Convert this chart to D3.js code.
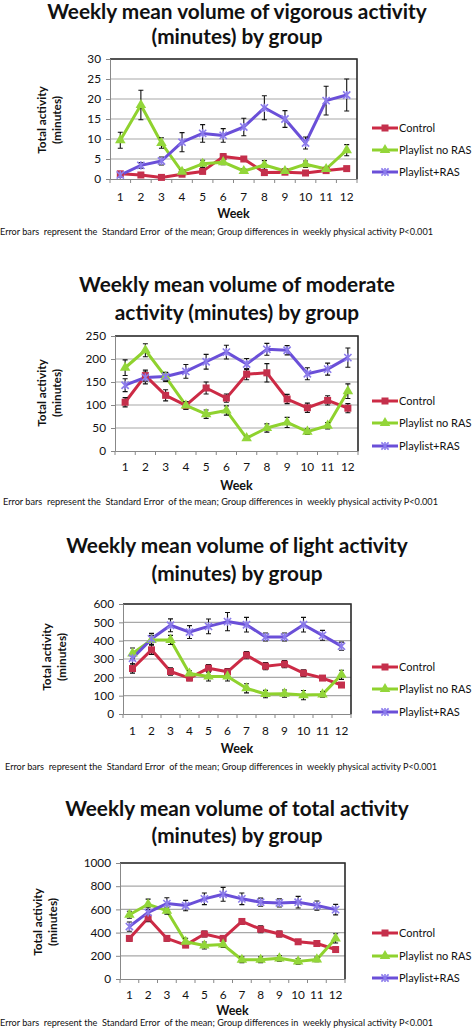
<!DOCTYPE html>
<html><head><meta charset="utf-8">
<script src="https://cdn.jsdelivr.net/npm/d3@7"></script>
<style>
html,body{margin:0;padding:0;background:#fff;}
svg{display:block;}
text{font-family:Lato,"Open Sans",sans-serif;fill:#111;}
</style></head>
<body><svg id="c" width="474" height="1029"></svg>
<script>
// ---------- DATA ----------
const weeks = ["1","2","3","4","5","6","7","8","9","10","11","12"];
const seriesNames = ["Control","Playlist no RAS","Playlist+RAS"];
const footnote = "Error bars  represent the  Standard Error  of the mean; Group differences in  weekly physical activity P<0.001";

const vigTitle = ["Weekly mean volume of vigorous activity","(minutes) by group"];
const vigTicks = [0,5,10,15,20,25,30];
const vigControl   = [1.3,1.0,0.4,1.2,1.9,5.6,5.0,1.6,1.7,1.5,2.1,2.6];
const vigControlSE = [0.5,0.5,0.4,0.4,0.5,0.7,0.6,0.5,0.5,0.5,0.5,0.5];
const vigNoRas     = [9.7,18.5,9.0,1.8,3.8,4.2,2.0,3.5,2.0,3.7,2.5,7.2];
const vigNoRasSE   = [2.0,3.7,1.3,0.5,0.9,0.6,0.5,1.1,0.6,0.8,0.5,1.4];
const vigRas       = [1.0,3.4,4.5,9.2,11.4,10.9,13.0,17.8,15.0,9.0,19.6,21.0];
const vigRasSE     = [0.5,0.7,1.0,2.4,2.2,1.7,2.2,3.0,2.1,1.5,3.6,4.0];

const modTitle = ["Weekly mean volume of moderate","activity (minutes) by group"];
const modTicks = [0,50,100,150,200,250];
const modControl   = [106,164,121,99,137,115,167,170,113,94,110,93];
const modControlSE = [10,12,12,8,13,9,12,20,10,10,10,10];
const modNoRas     = [181,219,161,99,80,88,28,50,62,42,55,130];
const modNoRasSE   = [17,14,10,8,9,10,4,9,11,6,7,16];
const modRas       = [143,160,162,173,194,215,189,221,219,168,178,203];
const modRasSE     = [14,14,8,15,16,15,12,13,10,13,13,21];

const lightTitle = ["Weekly mean volume of light activity","(minutes) by group"];
const lightTicks = [0,100,200,300,400,500,600];
const lightControl   = [248,350,232,196,250,230,321,261,272,223,196,158];
const lightControlSE = [25,25,20,15,20,18,20,20,20,18,12,10];
const lightNoRas     = [330,404,404,221,205,205,140,109,111,103,107,214];
const lightNoRasSE   = [30,25,25,15,25,25,25,20,20,25,15,25];
const lightRas       = [304,410,484,447,478,504,487,420,420,487,429,370];
const lightRasSE     = [30,30,35,35,40,50,40,22,22,40,27,22];

const totTitle = ["Weekly mean volume of total activity","(minutes) by group"];
const totTicks = [0,200,400,600,800,1000];
const totControl   = [350,525,350,292,388,350,496,429,388,321,306,254];
const totControlSE = [25,30,25,20,25,25,25,30,25,20,20,20];
const totNoRas     = [554,644,589,321,289,297,166,166,178,152,169,350];
const totNoRasSE   = [30,45,30,30,30,25,25,25,25,25,20,40];
const totRas       = [452,574,650,633,691,730,691,662,656,662,633,598];
const totRasSE     = [40,40,50,45,50,60,50,35,35,50,40,45];

// ---------- LAYOUT / STYLE ----------
const colors = ["#cc2a45","#8fd22e","#6a4fd8"];
const markerColors = ["#c4304c","#93d63a","#8c7cec"];

const panels = [
  {title:vigTitle, ticks:vigTicks, vals:[vigControl,vigNoRas,vigRas], se:[vigControlSE,vigNoRasSE,vigRasSE],
   t1:19, t2:44, x0:110, x1:357, y0:59, y1:179, lab:197, week:214, foot:232, footX:0, footW:433, leg:[128,150,172], yl:[42,57], ylc:120},
  {title:modTitle, ticks:modTicks, vals:[modControl,modNoRas,modRas], se:[modControlSE,modNoRasSE,modRasSE],
   t1:292, t2:320, x0:115, x1:358, y0:336, y1:451, lab:467, week:486, foot:502, footX:3, footW:435, leg:[401,423,446], yl:[42,57], ylc:393},
  {title:lightTitle, ticks:lightTicks, vals:[lightControl,lightNoRas,lightRas], se:[lightControlSE,lightNoRasSE,lightRasSE],
   t1:553, t2:581, x0:123, x1:351, y0:604, y1:714, lab:731, week:749, foot:767, footX:5, footW:432, leg:[667,689,712], yl:[47,62], ylc:657},
  {title:totTitle, ticks:totTicks, vals:[totControl,totNoRas,totRas], se:[totControlSE,totNoRasSE,totRasSE],
   t1:816, t2:843, x0:120, x1:345, y0:863, y1:979, lab:995, week:1011, foot:1023, footX:0, footW:433, leg:[933,956,978], yl:[38,53], ylc:922}
];

const svg = d3.select("#c");

function marker(g, i, x, y) {
  if (i === 0) {
    g.append("rect").attr("x", x-3.5).attr("y", y-3.5).attr("width", 7).attr("height", 7)
      .attr("fill", markerColors[0]);
  } else if (i === 1) {
    g.append("path").attr("d", d3.symbol(d3.symbolTriangle, 48)()).attr("transform", `translate(${x},${y})`)
      .attr("fill", markerColors[1]);
  } else {
    const s = 3.6;
    g.append("path").attr("d", `M${x-s},${y-s}L${x+s},${y+s}M${x-s},${y+s}L${x+s},${y-s}M${x},${y-s-0.5}L${x},${y+s+0.5}`)
      .attr("stroke", markerColors[2]).attr("stroke-width", 1.6).attr("fill", "none");
  }
}

panels.forEach(p => {
  const g = svg.append("g");
  // titles
  g.append("text").attr("x", 237).attr("y", p.t1).attr("text-anchor", "middle")
    .attr("font-size", 20.8).attr("font-weight", "bold").text(p.title[0]);
  g.append("text").attr("x", 237).attr("y", p.t2).attr("text-anchor", "middle")
    .attr("font-size", 20.8).attr("font-weight", "bold").text(p.title[1]);

  const x = d3.scaleBand().domain(weeks).range([p.x0, p.x1]);
  const y = d3.scaleLinear().domain([0, d3.max(p.ticks)]).range([p.y1, p.y0]);

  // gridlines
  g.append("g").selectAll("line").data(p.ticks.slice(1)).join("line")
    .attr("x1", p.x0).attr("x2", p.x1).attr("y1", d => y(d)).attr("y2", d => y(d))
    .attr("stroke", "#a8a8a8").attr("stroke-width", 1.2);
  // frame top/right dark
  g.append("path").attr("d", `M${p.x0},${p.y0}H${p.x1}V${p.y1}`).attr("fill","none")
    .attr("stroke", "#2a2a2a").attr("stroke-width", 1.6);

  // y axis
  const ya = g.append("g").attr("transform", `translate(${p.x0},0)`)
    .call(d3.axisLeft(y).tickValues(p.ticks).tickFormat(d3.format("d")).tickSize(4).tickPadding(5));
  ya.select(".domain").attr("stroke", "#888");
  ya.selectAll(".tick line").attr("stroke", "#888");
  ya.selectAll(".tick text").attr("font-size", 11.8).attr("fill", "#111")
    .attr("font-family", "Lato,'Open Sans',sans-serif");

  // x axis
  const xa = g.append("g").attr("transform", `translate(0,${p.y1})`)
    .call(d3.axisBottom(x).tickSize(0).tickPadding(0));
  xa.select(".domain").attr("stroke", "#888");
  xa.selectAll(".tick text").attr("font-size", 11.8).attr("fill", "#111")
    .attr("font-family", "Lato,'Open Sans',sans-serif")
    .attr("y", p.lab - p.y1).attr("dy", "0.32em");
  // category boundary ticks
  g.append("g").selectAll("line").data(weeks.concat(["end"])).join("line")
    .attr("x1", (d,i) => p.x0 + i*x.bandwidth()).attr("x2", (d,i) => p.x0 + i*x.bandwidth())
    .attr("y1", p.y1).attr("y2", p.y1 + 4).attr("stroke", "#888");

  // Week label
  g.append("text").attr("x", (p.x0+p.x1)/2).attr("y", p.week).attr("dy","0.35em").attr("text-anchor","middle")
    .attr("font-size", 12.5).attr("font-weight","bold").text("Week");
  // y label
  const yl = g.append("g").attr("transform", `translate(0,${p.ylc})`);
  yl.append("text").attr("transform", `translate(${p.yl[0]},0) rotate(-90)`).attr("dy","0.35em")
    .attr("text-anchor","middle").attr("font-size", 11.8).attr("font-weight","bold").text("Total activity");
  yl.append("text").attr("transform", `translate(${p.yl[1]},0) rotate(-90)`).attr("dy","0.35em")
    .attr("text-anchor","middle").attr("font-size", 11.8).attr("font-weight","bold").text("(minutes)");

  // footnote
  g.append("text").attr("x", p.footX).attr("y", p.foot).attr("dy","0.35em").attr("font-size", 9.8)
    .attr("textLength", p.footW).attr("lengthAdjust", "spacingAndGlyphs")
    .attr("xml:space","preserve").style("white-space","pre").text(footnote);

  const cx = d => x(d) + x.bandwidth()/2;
  const line = d3.line().x((d,i) => cx(weeks[i])).y(d => y(d));

  // lines
  p.vals.forEach((vals, si) => {
    g.append("path").datum(vals).attr("d", line).attr("fill","none")
      .attr("stroke", colors[si]).attr("stroke-width", 3).attr("stroke-linejoin","round");
  });
  // error bars
  p.vals.forEach((vals, si) => {
    const eb = g.append("g");
    vals.forEach((v, i) => {
      const xx = cx(weeks[i]), lo = y(v - p.se[si][i]), hi = y(v + p.se[si][i]);
      eb.append("path").attr("d", `M${xx},${lo}V${hi}M${xx-2.5},${lo}H${xx+2.5}M${xx-2.5},${hi}H${xx+2.5}`)
        .attr("stroke", "#111").attr("stroke-width", 1.1).attr("fill","none");
    });
  });
  // markers
  p.vals.forEach((vals, si) => {
    const mg = g.append("g");
    vals.forEach((v, i) => marker(mg, si, cx(weeks[i]), y(v)));
  });

  // legend
  seriesNames.forEach((name, si) => {
    const ly = p.leg[si];
    g.append("line").attr("x1", 372).attr("x2", 398).attr("y1", ly).attr("y2", ly)
      .attr("stroke", colors[si]).attr("stroke-width", 3);
    marker(g, si, 385, ly);
    g.append("text").attr("x", 399).attr("y", ly).attr("dy","0.35em").attr("font-size", 11).text(name);
  });
});
</script></body></html>
